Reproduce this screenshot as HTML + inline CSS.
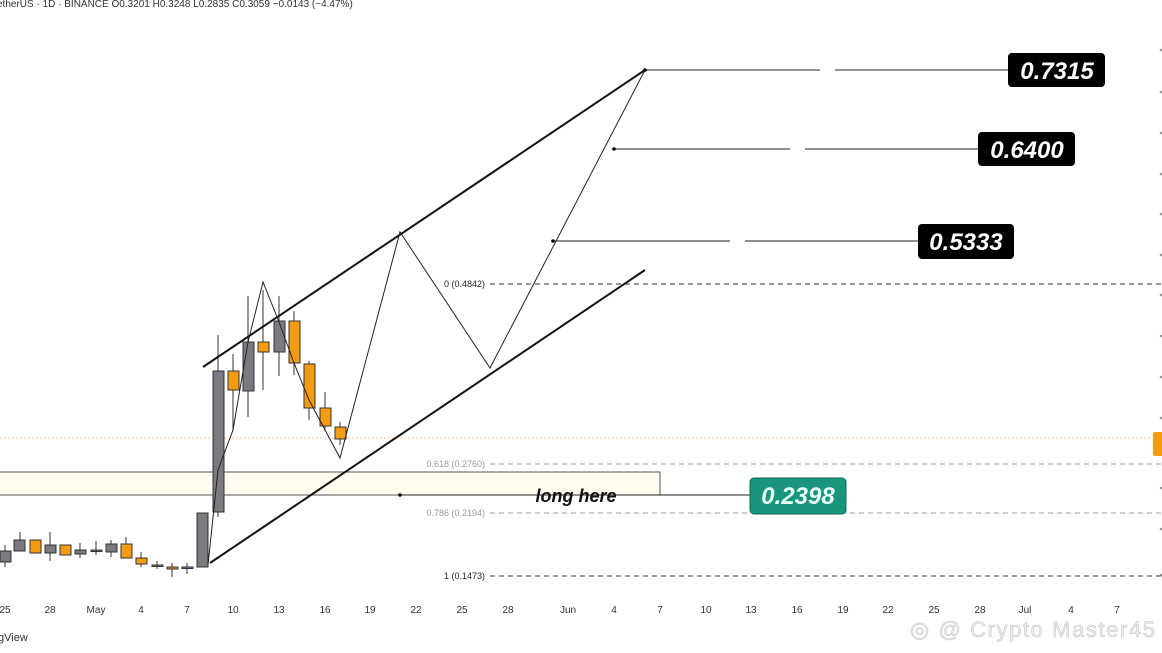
<!DOCTYPE html>
<html><head><meta charset="utf-8"><style>
html,body{margin:0;padding:0;background:#fff;}
svg{display:block;font-family:"Liberation Sans",sans-serif;}
</style></head><body>
<svg width="1162" height="653" viewBox="0 0 1162 653" xmlns="http://www.w3.org/2000/svg">
<rect width="1162" height="653" fill="#fff"/>
<text x="-3" y="7" font-size="10" fill="#333">etherUS · 1D · BINANCE  O0.3201  H0.3248  L0.2835  C0.3059  −0.0143 (−4.47%)</text>
<g fill="#999">
<circle cx="1161" cy="50" r="1.3"/><circle cx="1161" cy="92" r="1.3"/><circle cx="1161" cy="133" r="1.3"/><circle cx="1161" cy="174" r="1.3"/><circle cx="1161" cy="214" r="1.3"/><circle cx="1161" cy="255" r="1.3"/><circle cx="1161" cy="295" r="1.3"/><circle cx="1161" cy="336" r="1.3"/><circle cx="1161" cy="377" r="1.3"/><circle cx="1161" cy="418" r="1.3"/><circle cx="1161" cy="488" r="1.3"/><circle cx="1161" cy="529" r="1.3"/><circle cx="1161" cy="575" r="1.3"/>
</g>
<line x1="0" y1="438" x2="1152" y2="438" stroke="#f5b060" stroke-width="0.8" stroke-dasharray="2,2"/>
<rect x="1153" y="432" width="12" height="24" rx="2" fill="#f39c12"/>
<line x1="490" y1="284" x2="1162" y2="284" stroke="#333" stroke-width="1" stroke-dasharray="5,4"/>
<line x1="490" y1="464" x2="1162" y2="464" stroke="#999" stroke-width="1" stroke-dasharray="5,4"/>
<line x1="490" y1="513" x2="1162" y2="513" stroke="#999" stroke-width="1" stroke-dasharray="5,4"/>
<line x1="490" y1="576" x2="1162" y2="576" stroke="#333" stroke-width="1" stroke-dasharray="5,4"/>
<g font-size="9" text-anchor="end">
<text x="485" y="287" fill="#222">0 (0.4842)</text>
<text x="485" y="467" fill="#999">0.618 (0.2760)</text>
<text x="485" y="516" fill="#999">0.786 (0.2194)</text>
<text x="485" y="579" fill="#222">1 (0.1473)</text>
</g>
<rect x="-1" y="472" width="661" height="23" fill="#fffcf0" stroke="#555" stroke-width="1"/>
<g stroke="#333" stroke-width="1">
<line x1="5" y1="545" x2="5" y2="567"/><rect x="0" y="551" width="11" height="11" fill="#7a7a80"/>
<line x1="20" y1="532" x2="20" y2="551"/><rect x="14" y="540" width="11" height="11" fill="#7a7a80"/>
<rect x="30" y="540" width="11" height="13" fill="#f39c12"/>
<line x1="50" y1="532" x2="50" y2="561"/><rect x="45" y="545" width="11" height="8" fill="#7a7a80"/>
<rect x="60" y="545" width="11" height="10" fill="#f39c12"/>
<line x1="80" y1="543" x2="80" y2="558"/><rect x="75" y="550" width="11" height="4" fill="#7a7a80"/>
<line x1="96" y1="541" x2="96" y2="555"/><rect x="91" y="550" width="11" height="1.5" fill="#7a7a80"/>
<line x1="111" y1="540" x2="111" y2="557"/><rect x="106" y="544" width="11" height="8" fill="#7a7a80"/>
<line x1="126" y1="537" x2="126" y2="558"/><rect x="121" y="544" width="11" height="14" fill="#f39c12"/>
<line x1="141" y1="552" x2="141" y2="567"/><rect x="136" y="558" width="11" height="6" fill="#f39c12"/>
<line x1="157" y1="561" x2="157" y2="569"/><rect x="152" y="565" width="11" height="1.5" fill="#7a7a80"/>
<line x1="172" y1="563" x2="172" y2="577"/><rect x="167" y="567" width="11" height="2" fill="#f39c12"/>
<line x1="187" y1="563" x2="187" y2="574"/><rect x="182" y="567" width="11" height="1.5" fill="#7a7a80"/>
<rect x="197" y="513" width="11" height="54" fill="#7a7a80"/>
<line x1="218" y1="335" x2="218" y2="517"/><rect x="213" y="371" width="11" height="141" fill="#7a7a80"/>
<line x1="233" y1="354" x2="233" y2="431"/><rect x="228" y="371" width="11" height="19" fill="#f39c12"/>
<line x1="248" y1="296" x2="248" y2="417"/><rect x="243" y="342" width="11" height="49" fill="#7a7a80"/>
<line x1="263" y1="290" x2="263" y2="390"/><rect x="258" y="342" width="11" height="10" fill="#f39c12"/>
<line x1="279" y1="296" x2="279" y2="376"/><rect x="274" y="321" width="11" height="31" fill="#7a7a80"/>
<line x1="294" y1="311" x2="294" y2="375"/><rect x="289" y="321" width="11" height="42" fill="#f39c12"/>
<line x1="309" y1="361" x2="309" y2="420"/><rect x="304" y="364" width="11" height="44" fill="#f39c12"/>
<line x1="325" y1="392" x2="325" y2="431"/><rect x="320" y="408" width="11" height="18" fill="#f39c12"/>
<line x1="340" y1="422" x2="340" y2="445"/><rect x="335" y="427" width="11" height="12" fill="#f39c12"/>
</g>
<line x1="203" y1="367" x2="645" y2="70" stroke="#111" stroke-width="2"/>
<line x1="210" y1="563" x2="645" y2="270" stroke="#111" stroke-width="2"/>
<polyline points="208,565 218,470 233,430 248,342 263,282 279,322 294,363 309,400 340,458 400,232 490,368 645,70" fill="none" stroke="#222" stroke-width="1"/>
<g stroke="#222" stroke-width="1">
<line x1="645" y1="70" x2="820" y2="70"/><line x1="835" y1="70" x2="1008" y2="70"/>
<line x1="614" y1="149" x2="790" y2="149"/><line x1="805" y1="149" x2="978" y2="149"/>
<line x1="553" y1="241" x2="730" y2="241"/><line x1="745" y1="241" x2="918" y2="241"/>
<line x1="400" y1="495" x2="750" y2="495"/>
</g>
<circle cx="645" cy="70" r="1.8"/><circle cx="614" cy="149" r="1.8"/><circle cx="553" cy="241" r="1.8"/><circle cx="400" cy="495" r="1.8"/>
<g font-size="24" font-weight="bold" font-style="italic" fill="#fff" text-anchor="middle">
<rect x="1008" y="53" width="97" height="34" rx="4" fill="#000"/><text x="1057" y="79">0.7315</text>
<rect x="978" y="132" width="97" height="34" rx="4" fill="#000"/><text x="1027" y="158">0.6400</text>
<rect x="918" y="224" width="96" height="35" rx="4" fill="#000"/><text x="966" y="250">0.5333</text>
<rect x="750" y="478" width="96" height="36" rx="4" fill="#18957c" stroke="#0d6b58"/><text x="798" y="504" fill="#e8fff8">0.2398</text>
</g>
<text x="576" y="502" font-size="18" font-weight="bold" font-style="italic" text-anchor="middle" fill="#111">long here</text>
<g font-size="10" fill="#333" text-anchor="middle">
<text x="5" y="613">25</text><text x="50" y="613">28</text><text x="96" y="613">May</text><text x="141" y="613">4</text><text x="187" y="613">7</text><text x="233" y="613">10</text><text x="279" y="613">13</text><text x="325" y="613">16</text><text x="370" y="613">19</text><text x="416" y="613">22</text><text x="462" y="613">25</text><text x="508" y="613">28</text><text x="568" y="613">Jun</text><text x="614" y="613">4</text><text x="660" y="613">7</text><text x="706" y="613">10</text><text x="751" y="613">13</text><text x="797" y="613">16</text><text x="843" y="613">19</text><text x="888" y="613">22</text><text x="934" y="613">25</text><text x="980" y="613">28</text><text x="1025" y="613">Jul</text><text x="1071" y="613">4</text><text x="1117" y="613">7</text>
</g>
<text x="-2" y="641" font-size="11" fill="#333">gView</text>
<text x="910" y="637" font-size="22" fill="#eeeeee" stroke="#c8c8c8" stroke-width="0.6" textLength="245">◎ @ Crypto Master45</text>
</svg>
</body></html>
